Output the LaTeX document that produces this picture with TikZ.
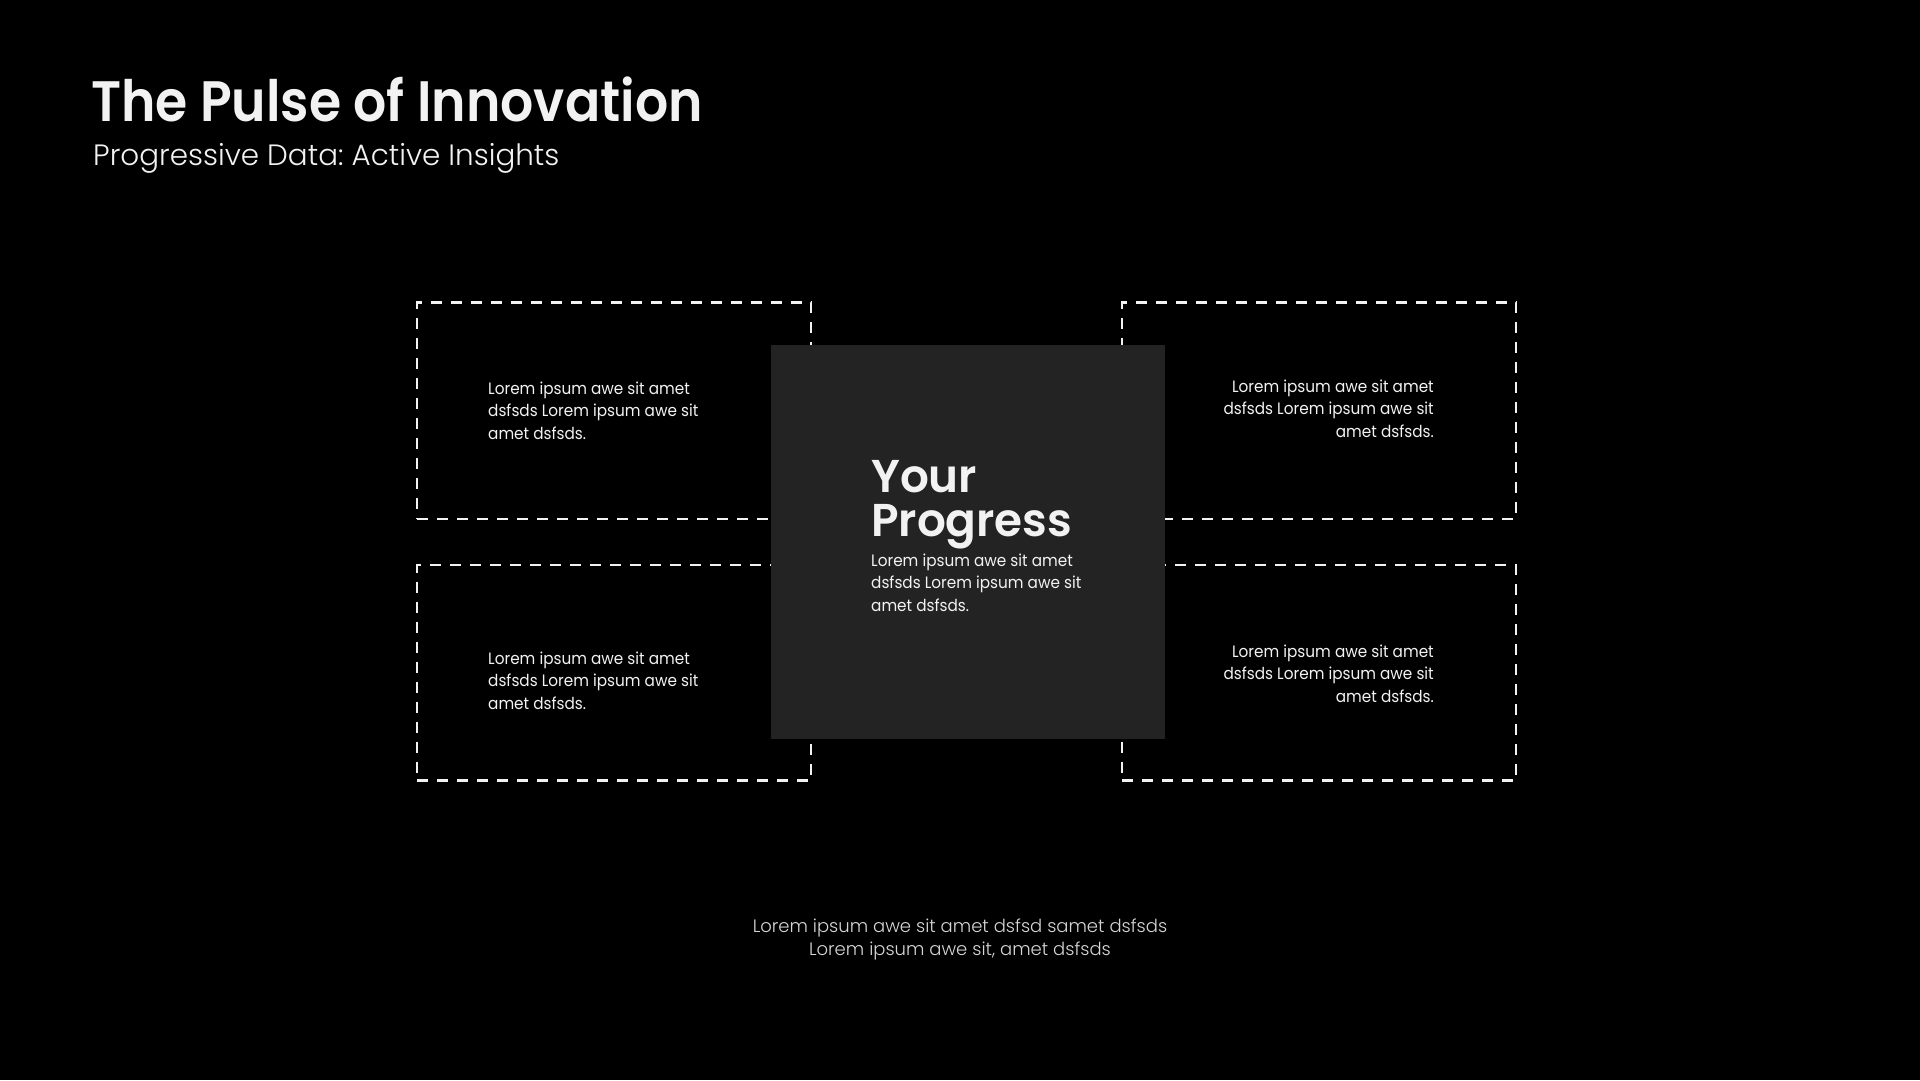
\documentclass[tikz,border=0pt]{standalone}
\usepackage{fontspec}
\setmainfont{Poppins}
\newfontfamily\poptitle{Poppins SemiBold}[FakeStretch=0.914]
\newfontfamily\popsemi{Poppins SemiBold}[FakeStretch=0.985]
\newfontfamily\poplight{Poppins Light}
\newfontfamily\popbody{Poppins}[FakeStretch=0.925]
\definecolor{inkwhite}{HTML}{F2F2F2}
\definecolor{footgray}{HTML}{D6D6D6}
\definecolor{panel}{HTML}{232323}
\frenchspacing
\begin{document}
\begin{tikzpicture}[x=1pt,y=-1pt,
  dashbox/.style={draw=inkwhite,line width=2.2pt,dash pattern=on 11pt off 9pt,minimum width=394pt,inner sep=0pt},
  bodytext/.style={text=inkwhite,inner sep=0pt,font=\popbody\fontsize{16.5}{22.7}\selectfont},
  ]
\fill[black] (0,0) rectangle (1920,1080);
\useasboundingbox (0,0) rectangle (1920,1080);
% titles
\node[anchor=base west,inner sep=0pt,text=inkwhite,font=\poptitle\fontsize{57}{60}\selectfont] (title) at (91,121) {The Pulse of Innovation};
\node[anchor=base west,inner sep=0pt,text=inkwhite,font=\poplight\fontsize{29.4}{30}\selectfont] (subtitle) at (93,165) {Progressive Data: Active Insights};
% dashed boxes
\node[dashbox,minimum height=216.5pt] (tl) at (614,410.75) {};
\node[dashbox,minimum height=215.5pt] (bl) at (614,672.75) {};
\node[dashbox,minimum height=216.5pt] (tr) at (1319,410.75) {};
\node[dashbox,minimum height=215.5pt] (br) at (1319,672.75) {};
% center panel
\node[fill=panel,minimum width=394pt,minimum height=394pt,inner sep=0pt] (center) at (968,542) {};
% box texts (anchor = baseline of last line)
\node[bodytext,anchor=base west,align=left] (tltext) at (488,439.4) {Lorem ipsum awe sit amet\\dsfsds Lorem ipsum awe sit\\amet dsfsds.};
\node[bodytext,anchor=base west,align=left] (bltext) at (488,709.4) {Lorem ipsum awe sit amet\\dsfsds Lorem ipsum awe sit\\amet dsfsds.};
\node[bodytext,anchor=base east,align=right] (trtext) at (1434,437.4) {Lorem ipsum awe sit amet\\dsfsds Lorem ipsum awe sit\\amet dsfsds.};
\node[bodytext,anchor=base east,align=right] (brtext) at (1434,702.4) {Lorem ipsum awe sit amet\\dsfsds Lorem ipsum awe sit\\amet dsfsds.};
% center texts
\node[anchor=base west,align=left,inner sep=0pt,text=inkwhite,font=\popsemi\fontsize{46}{44}\selectfont] (ctitle) at (871,536) {Your\\Progress};
\node[bodytext,anchor=base west,align=left] (ctext) at (871,611.4) {Lorem ipsum awe sit amet\\dsfsds Lorem ipsum awe sit\\amet dsfsds.};
% footer
\node[anchor=base,align=center,inner sep=0pt,text=footgray,font=\poplight\fontsize{18}{23}\selectfont] (footer) at (960,955) {Lorem ipsum awe sit amet dsfsd samet dsfsds\\Lorem ipsum awe sit, amet dsfsds};
\end{tikzpicture}
\end{document}
